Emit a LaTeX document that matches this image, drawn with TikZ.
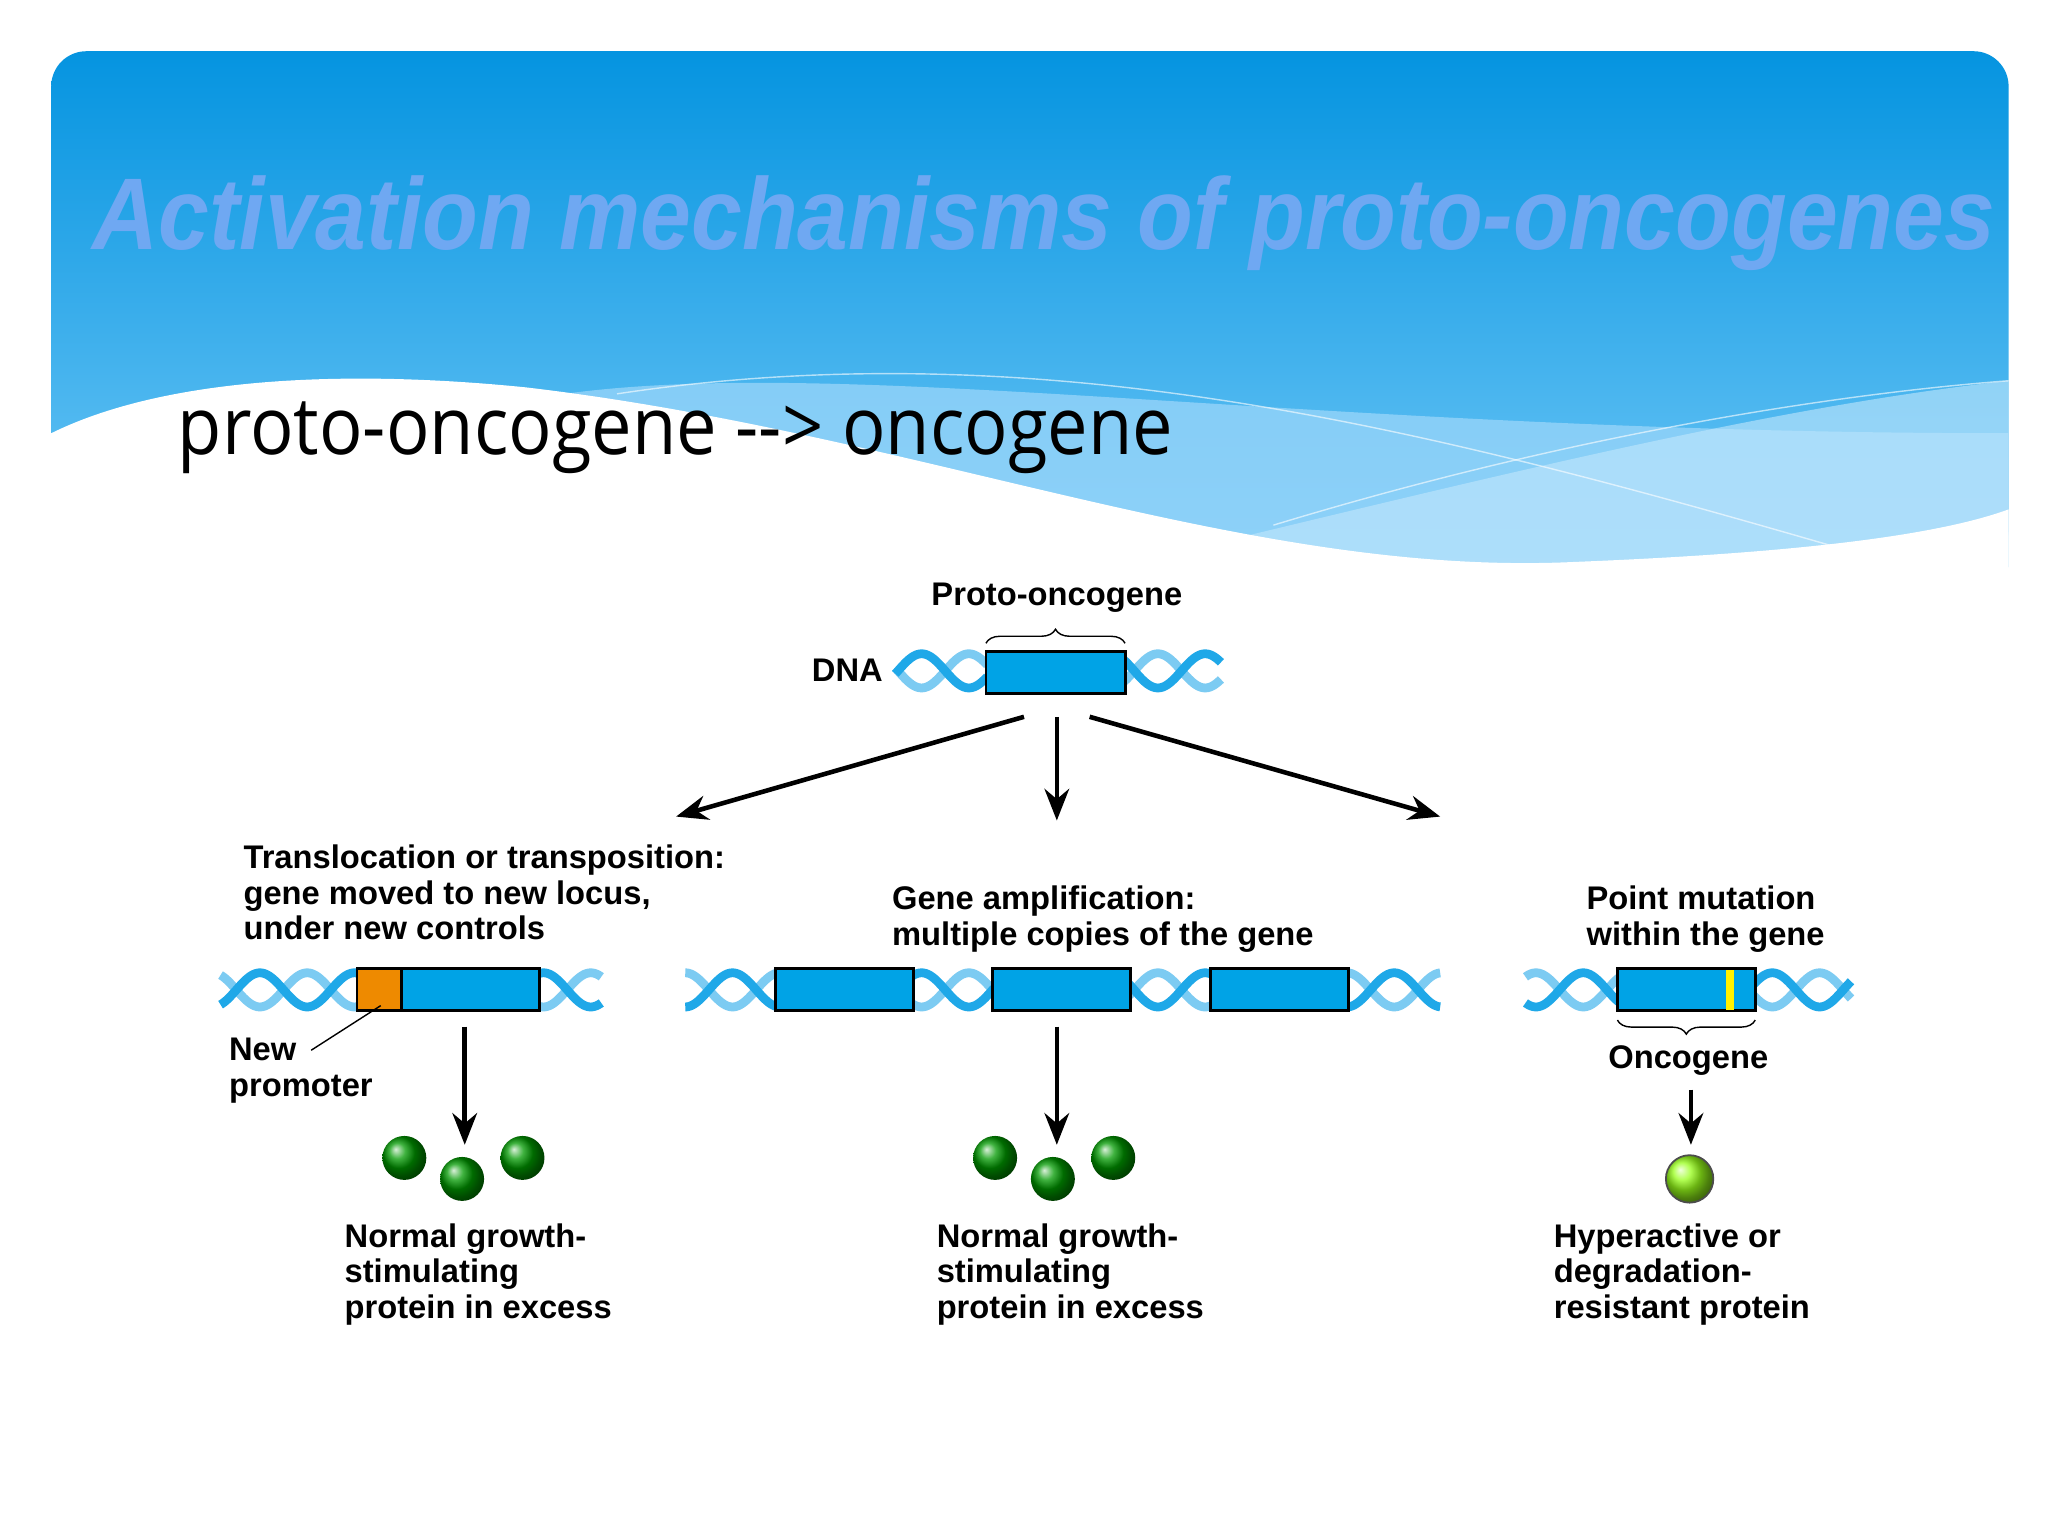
\documentclass[tikz,border=0pt]{standalone}
\usepackage{fontspec}
\setmainfont{Liberation Sans}
\newfontfamily\lab{Liberation Sans}
\newfontfamily\subf{Open Sans}
\usetikzlibrary{arrows.meta,decorations.pathreplacing,shadings}
\definecolor{hdtop}{HTML}{0594E0}
\definecolor{hdbot}{HTML}{6CC6F6}
\definecolor{band}{HTML}{9AD6FA}
\definecolor{ttl}{HTML}{6FA8F2}
\definecolor{gene}{HTML}{00A3E6}
\definecolor{helA}{HTML}{1FA8E8}
\definecolor{helB}{HTML}{7CCBF2}
\definecolor{prom}{HTML}{EE8A00}
\newcommand{\myhelix}[3]{%
  \draw[hB] plot[domain=#1:#2,samples=80] (\x,{#3+13*sin(5*\x+180)});
  \draw[hA] plot[domain=#1:#2,samples=80] (\x,{#3+13*sin(5*\x)});}
\begin{document}
\begin{tikzpicture}[x=0.013128cm,y=-0.013128cm,
  lbl/.style={font=\lab\fontsize{9.3pt}{10.1pt}\selectfont\bfseries,align=left,inner sep=0pt},
  gbox/.style={draw=black,line width=0.8pt,fill=gene},
  arr/.style={line width=1.3pt,-{Stealth[length=9pt,width=7pt]}},
  brc/.style={decorate,decoration={brace,amplitude=4pt},line width=0.4pt},
  ball/.style={circle,minimum size=12.5pt,inner sep=0pt,ball color=green!60!black},
  hA/.style={helA,line width=2.5pt},
  hB/.style={helB,line width=2.5pt}]
\useasboundingbox (0,0) rectangle (1560,1170);
\fill[white] (0,0) rectangle (1560,1170);
% header
\shade[top color=hdtop,bottom color=hdbot,rounded corners=10pt] (39,39) rectangle (1530,430);
\fill[band,opacity=.75] (430,300) .. controls (650,270) and (1000,330) .. (1530,330) -- (1530,432) -- (39,432) -- cycle;
\fill[band!60!white,opacity=.6] (900,420) .. controls (1150,360) and (1350,310) .. (1530,290) -- (1530,432) -- (900,432) -- cycle;
\draw[white,opacity=.6,line width=0.4pt] (470,300) .. controls (800,250) and (1100,330) .. (1410,420);
\draw[white,opacity=.6,line width=0.4pt] (970,400) .. controls (1200,330) and (1400,300) .. (1530,290);
\fill[white] (39,330) .. controls (120,290) and (250,280) .. (400,295) .. controls (700,330) and (950,440) .. (1200,428) .. controls (1350,422) and (1470,410) .. (1530,388) -- (1530,440) -- (39,440) -- cycle;
\node[text=ttl,inner sep=0pt,anchor=base west] (title) at (70,190) {\resizebox{541pt}{21pt}{\bfseries\itshape Activation mechanisms of proto-oncogenes}};
\node[inner sep=0pt,anchor=base west] (sub) at (135,346) {\resizebox{283pt}{15pt}{\subf proto-oncogene --> oncogene}};
% top
\myhelix{682}{752}{511}
\myhelix{856}{930}{511}
\draw[gbox] (751,496) rectangle (857,528);
\coordinate (g0l) at (751,490); \coordinate (g0r) at (857,490);
\draw[brc] (g0l) -- (g0r);
\node[lbl,anchor=base] (proto) at (805,461) {Proto-oncogene};
\node[lbl,anchor=base east] (dna) at (673,519) {DNA};
\coordinate (s1) at (780,546); \coordinate (s2) at (805,546); \coordinate (s3) at (830,546);
\coordinate (e1) at (515,622); \coordinate (e2) at (805,625); \coordinate (e3) at (1097,622);
\draw[arr] (s1) -- (e1); \draw[arr] (s2) -- (e2); \draw[arr] (s3) -- (e3);
% left
\node[lbl,anchor=base west] (tl) at (185,716) {Translocation or transposition:\\gene moved to new locus,\\under new controls};
\myhelix{168}{273}{754}
\myhelix{410}{458}{754}
\draw[draw=black,line width=0.8pt,fill=prom] (272,738) rectangle (306,770);
\draw[gbox] (306,738) rectangle (411,770);
\node[lbl,anchor=base west] (np) at (174,835) {New\\promoter};
\coordinate (npa) at (237,800); \coordinate (npb) at (290,766);
\draw[line width=0.4pt] (npa) -- (npb);
\coordinate (la) at (354,782); \coordinate (lb) at (354,872);
\draw[arr] (la) -- (lb);
\node[ball] (b1) at (308,882) {}; \node[ball] (b2) at (352,898) {}; \node[ball] (b3) at (398,882) {};
\node[lbl,anchor=base west] (tl2) at (262,1004) {Normal growth-\\stimulating\\protein in excess};
% middle
\node[lbl,anchor=base west] (tm) at (679,720) {Gene amplification:\\multiple copies of the gene};
\myhelix{522}{592}{754}
\myhelix{695}{757}{754}
\myhelix{860}{923}{754}
\myhelix{1026}{1097}{754}
\draw[gbox] (591,738) rectangle (696,770);
\draw[gbox] (756,738) rectangle (861,770);
\draw[gbox] (922,738) rectangle (1027,770);
\coordinate (ma) at (805,782); \coordinate (mb) at (805,872);
\draw[arr] (ma) -- (mb);
\node[ball] (c1) at (758,882) {}; \node[ball] (c2) at (802,898) {}; \node[ball] (c3) at (848,882) {};
\node[lbl,anchor=base west] (tm2) at (713,1004) {Normal growth-\\stimulating\\protein in excess};
% right
\node[lbl,anchor=base west] (tr) at (1208,720) {Point mutation\\within the gene};
\myhelix{1162}{1233}{754}
\myhelix{1336}{1410}{754}
\draw[gbox] (1232,738) rectangle (1337,770);
\fill[yellow] (1315,739) rectangle (1321,769);
\coordinate (orr) at (1337,777); \coordinate (orl) at (1232,777);
\draw[brc] (orr) -- (orl);
\node[lbl,anchor=base] (onc) at (1286,814) {Oncogene};
\coordinate (ra) at (1288,830); \coordinate (rb) at (1288,872);
\draw[arr] (ra) -- (rb);
\node[circle,minimum size=13.5pt,inner sep=0pt,ball color=green!45!yellow!90!white,draw=black!70,line width=0.5pt] (d1) at (1287,898) {};
\node[lbl,anchor=base west] (tr2) at (1183,1004) {Hyperactive or\\degradation-\\resistant protein};
\end{tikzpicture}
\end{document}
